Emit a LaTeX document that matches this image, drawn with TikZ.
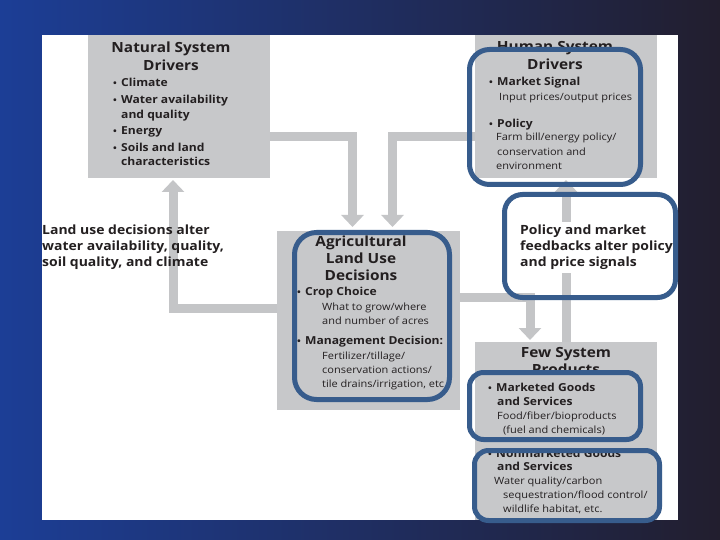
\documentclass[tikz,border=0pt]{standalone}
\usepackage{fontspec}
\setmainfont{Open Sans}[FakeStretch=1.1]
\usetikzlibrary{arrows.meta}
\definecolor{boxgrey}{RGB}{199,200,202}
\definecolor{flowgrey}{RGB}{196,197,199}
\definecolor{ringblue}{RGB}{55,92,140}
\definecolor{inkdark}{RGB}{35,31,32}
\definecolor{bgblue}{RGB}{28,62,150}
\definecolor{bgdark}{RGB}{34,30,46}
\newcommand{\bul}{\makebox[8pt][l]{\raisebox{0.5pt}{\small\textbullet}}}
\newcommand{\subtxt}[1]{{\fontsize{10}{14}\selectfont\mdseries #1}}

\begin{document}
\begin{tikzpicture}[x=1pt, y=-1pt,
  greybox/.style={fill=boxgrey, inner sep=0pt, outer sep=0pt, anchor=north west},
  ring/.style={draw=ringblue, line width=5pt, inner sep=0pt, outer sep=0pt, anchor=north west},
  flow/.style={draw=flowgrey, line width=9pt, -{Triangle[width=22pt,length=12pt]}},
  title/.style={font=\fontsize{14}{18}\selectfont\bfseries, text=inkdark, align=center,
                inner sep=0pt, anchor=north},
  body/.style={font=\fontsize{11}{14}\selectfont\bfseries, text=inkdark, align=left,
               inner sep=0pt, anchor=north west},
  note/.style={font=\fontsize{12.7}{16}\selectfont\bfseries, text=inkdark, align=left,
               inner sep=0pt, anchor=north west},
  ]
  \useasboundingbox (0,0) rectangle (720,540);
  \shade[left color=bgblue, right color=bgdark] (0,0) rectangle (720,540);
  \fill[white] (42,35) rectangle (678,520);

  % grey boxes
  \node[greybox, minimum width=182pt, minimum height=143pt] (nat) at (88,35) {};
  \node[greybox, minimum width=182pt, minimum height=143pt] (hum) at (475,35) {};
  \node[greybox, minimum width=183pt, minimum height=179pt] (ag) at (277,231) {};
  \node[greybox, minimum width=182pt, minimum height=178pt] (few) at (475,342) {};

  % flows
  \draw[flow] (nat.east |- 0,137) -| ([xshift=-16pt,yshift=4pt]ag.north);
  \draw[flow] (hum.west |- 0,137) -| ([xshift=24pt,yshift=4pt]ag.north);
  \draw[flow] (ag.west |- 0,308) -| ([xshift=-6pt,yshift=-2pt]nat.south);
  \draw[flow] (ag.east |- 0,297) -| ([xshift=-36pt,yshift=2pt]few.north);
  \draw[flow] (few.north) -- ([yshift=-2pt]hum.south);

  % texts
  \node[title] (nattitle) at (171,42) {Natural System\\Drivers};
  \node[body] (natlist) at (113,78) {\bul Climate\\[3pt]
    \bul Water availability\\[1pt]
    \hspace*{8pt}and quality\\[2pt]
    \bul Energy\\[3pt]
    \bul Soils and land\\
    \hspace*{8pt}characteristics};

  \node[title] (humtitle) at (555,41) {Human System\\Drivers};
  \node[body] (humlist) at (489,77) {\bul Market Signal\\[1pt]
    \hspace*{10pt}\subtxt{Input prices/output prices}\\[13pt]
    \bul Policy\\[-1pt]
    \hspace*{7pt}\subtxt{Farm bill/energy policy/}\\[1pt]
    \hspace*{8pt}\subtxt{conservation and}\\
    \hspace*{7pt}\subtxt{environment}};

  \node[title] (agtitle) at (361,236) {Agricultural\\[-1pt]Land Use\\[-1pt]Decisions};
  \node[body] (aglist) at (297,287) {\bul Crop Choice\\[1pt]
    \hspace*{25pt}\subtxt{What to grow/where}\\
    \hspace*{25pt}\subtxt{and number of acres}\\[6pt]
    \bul Management Decision:\\[1pt]
    \hspace*{25pt}\subtxt{Fertilizer/tillage/}\\
    \hspace*{25pt}\subtxt{conservation actions/}\\
    \hspace*{25pt}\subtxt{tile drains/irrigation, etc}};

  \node[title] (fewtitle) at (566,347) {Few System\\[-1pt]Products};
  \node[body] (fewlist) at (488,383) {\bul Marketed Goods\\
    \hspace*{9pt}and Services\\
    \hspace*{9pt}\subtxt{Food/fiber/bioproducts}\\
    \hspace*{15pt}\subtxt{(fuel and chemicals)}\\[10pt]
    \bul Nonmarketed Goods\\[-1pt]
    \hspace*{9pt}and Services\\
    \hspace*{6pt}\subtxt{Water quality/carbon}\\
    \hspace*{15pt}\subtxt{sequestration/flood control/}\\
    \hspace*{15pt}\subtxt{wildlife habitat, etc.}};

  \node[note] (landnote) at (42,225) {Land use decisions alter\\water availability, quality,\\soil quality, and climate};
  \node[note, fill=white, inner sep=3pt] (feednote) at (517,222) {Policy and market\\feedbacks alter policy\\and price signals};

  % blue outlines
  \node[ring, rounded corners=20pt, minimum width=171pt, minimum height=135pt] (humring) at (469.5,49.5) {};
  \node[ring, rounded corners=22pt, minimum width=155pt, minimum height=167pt] (agring) at (294.5,232.5) {};
  \node[ring, rounded corners=18pt, minimum width=171pt, minimum height=103pt] (feedring) at (504.5,194.5) {};
  \node[ring, rounded corners=14pt, minimum width=171pt, minimum height=67pt] (mktring) at (469.5,372.5) {};
  \node[ring, rounded corners=14pt, minimum width=185pt, minimum height=70pt] (nonring) at (474.5,450.5) {};
\end{tikzpicture}
\end{document}
